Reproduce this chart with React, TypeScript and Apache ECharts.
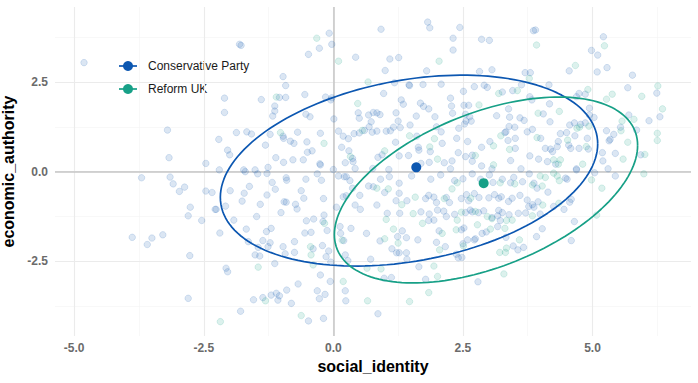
import React, { useEffect, useRef } from "react";
import * as echarts from "echarts";

// ---- data ----
const partyNames = ["Conservative Party", "Reform UK"];
const partyColors = ["#0C57B1", "#17A087"];
const xTickValues = [-5, -2.5, 0, 2.5, 5];
const yTickValues = [-2.5, 0, 2.5];
const xMinorGrid = [-3.75, -1.25, 1.25, 3.75, 6.25];
const yMinorGrid = [-3.75, -1.25, 1.25, 3.75];
const xRange = [-5.37, 6.9];
const yRange = [-4.58, 4.59];

const conservativeMean = [1.6, 0.12];
const reformMean = [2.9, -0.32];

// ellipse: centre, half-extent in x and y, correlation
const conservativeEllipse = { cx: 1.46, cy: 0.03, sx: 3.64, sy: 2.66, rho: 0.28 };
const reformEllipse = { cx: 2.945, cy: -0.51, sx: 2.925, sy: 2.59, rho: 0.48 };

const conservativePoints = [
  [-4.81,3.04],[-3.2,1.16],[-3.17,0.39],[-2.46,0.23],
  [-1.81,3.55],[-1.78,3.52],[-0.08,3.86],[-0.03,3.55],[-0.27,3.44],[-0.48,3.27],[0.43,3.19],[-0.97,2.65],[-0.92,2.4],[-2.1,2.05],[-2.1,1.65],[-1.39,2.01],[-1.04,2.07],[-0.92,2.07],[-1.13,1.83],[-1.13,1.69],[-1.17,1.55],[-0.55,2.15],[-0.53,1.6],[-0.45,1.53],[-0.15,2.08],[-0.05,2.0],[-0.03,2.06],[0.48,1.64],[0.5,1.49],[0.68,1.58],[0.77,1.65],[0.73,1.39],[0.01,1.47],[-1.87,1.09],[-1.67,1.11],[-1.58,1.05],[-2.21,0.9],[-1.22,1.04],[-0.97,0.99],[-0.96,0.93],[-0.69,1.1],[-0.25,1.07],[-0.83,0.85],[-0.76,0.79],[-1.31,0.74],[-0.51,0.83],[0.1,1.13],[0.19,0.99],[0.29,0.92],[0.4,1.06],[0.5,1.08],[0.6,1.15],[0.69,1.25],[0.75,1.1],[-2.04,0.6],[-2.0,0.47],[-1.11,0.39],[-0.96,0.26],[-0.78,0.33],[-0.58,0.33],[-0.5,0.54],[-0.41,0.58],[-0.26,0.22],[-0.25,0.19],[0.16,0.68],[0.3,0.58],[0.37,0.37],[0.23,0.25],[0.38,0.28],[0.42,0.09],[0.76,0.09],[-1.73,0.05],[-1.51,0.05],[-1.26,0.12],[0,0.06],
  [0.92,3.97],[1.82,4.17],[1.86,4.01],[2.44,4.02],[2.31,3.72],[2.31,3.39],[2.86,3.69],[3.01,3.66],[3.86,3.93],[1.09,3.14],[1.26,3.18],[1.0,2.82],[1.8,2.81],[2.82,2.79],[3.06,2.84],[3.7,2.76],[3.8,2.76],[1.18,2.48],[1.46,2.42],[1.47,2.4],[1.73,2.43],[2.08,2.44],[0.97,2.18],[2.26,2.05],[2.28,1.83],[2.51,2.24],[2.72,2.37],[2.91,2.41],[2.97,2.35],[3.26,2.22],[3.46,2.26],[3.63,2.42],[3.79,2.09],[3.83,2.0],[1.31,2.0],[1.35,1.88],[1.68,1.91],[1.74,1.82],[1.84,1.75],[2.52,1.85],[2.61,1.85],[0.84,1.64],[0.9,1.59],[1.21,1.64],[1.6,1.55],[1.96,1.53],[2.3,1.63],[2.55,1.6],[2.63,1.53],[3.15,1.56],[3.38,1.75],[3.4,1.52],[3.6,1.5],[3.68,1.43],[1.25,1.41],[1.16,1.24],[1.02,1.13],[1.1,1.14],[0.84,1.13],[1.48,1.3],[1.29,1.23],[1.99,1.25],[2.08,1.11],[2.42,1.21],[2.53,1.33],[2.56,1.41],[2.66,1.41],[3.33,1.11],[3.39,1.26],[3.5,1.24],[3.31,1.09],[3.74,1.11],[3.84,1.18],[1.61,0.99],[1.2,0.82],[2.1,0.79],[2.38,0.93],[2.59,0.84],[3.02,0.84],[3.37,0.87],[3.51,0.93],[0.94,0.47],[0.86,0.4],[1.27,0.44],[1.45,0.45],[1.65,0.6],[1.64,0.68],[1.87,0.56],[2.14,0.25],[2.29,0.3],[2.41,0.53],[2.55,0.42],[2.68,0.46],[2.68,0.29],[2.86,0.16],[2.86,0.68],[3.42,0.31],[3.51,0.65],[3.79,0.44],[1.69,0.23],[1.85,0.26],[1.07,0.06],[2.26,0.08],[3.06,0.08],[3.62,0.08],
  [3.9,3.95],[5.21,3.76],[4.98,3.38],[5.1,3.25],[4.55,2.81],[5.09,2.78],[5.28,2.9],[5.77,2.69],[4.16,2.42],[4.86,2.16],[4.74,2.18],[4.69,2.09],[5.68,2.34],[6.24,2.19],[4.17,1.89],[4.05,1.61],[4.94,1.77],[4.94,1.58],[5.03,1.51],[5.7,1.58],[6.09,1.42],[6.3,1.53],[4.18,1.39],[4.56,1.3],[4.65,1.36],[4.77,1.32],[4.86,1.36],[5.54,1.24],[5.27,1.14],[5.41,1.04],[5.34,0.9],[5.32,0.86],[5.85,1.16],[4.38,1.06],[4.5,1.09],[4.66,1.0],[4.0,0.93],[4.09,0.65],[4.19,0.63],[4.23,0.56],[4.32,0.7],[4.34,0.84],[4.54,0.74],[4.58,0.65],[4.74,0.65],[4.92,0.63],[4.9,0.93],[5.19,0.53],[5.44,0.51],[5.2,0.3],[5.93,0.47],[4.29,0.21],[4.13,0.28],[3.96,0.35],[4.69,0.08],[5.3,0.08],
  [-3.7,-0.17],[-3.15,-0.15],[-3.09,-0.34],[-2.97,-0.55],[-2.87,-0.43],[-2.46,-0.54],[-2.34,-0.58],[-2.28,-1.05],[-2.76,-0.99],[-2.8,-1.23],[-2.54,-1.36],[-3.88,-1.83],[-3.59,-2.03],[-3.5,-1.85],[-3.29,-1.76],[-2.77,-2.34],[-2.8,-3.53],
  [-2.2,0.05],[-1.7,0],[-1.46,-0.06],[-1.28,-0.05],[-0.91,-0.17],[-0.9,-0.24],[-0.53,-0.21],[-0.31,-0.06],[-0.23,-0.24],[-1.99,-0.53],[-1.62,-0.41],[-1.72,-0.6],[-1.28,-0.65],[-1.12,-0.49],[-1.18,-0.3],[-0.62,-0.53],[-0.57,-0.74],[-0.19,-0.75],[-2.08,-0.96],[-1.76,-0.82],[-1.41,-0.91],[-0.95,-0.84],[-0.91,-0.85],[-0.73,-0.91],[-0.7,-1.04],[-2.26,-1.05],[-1.48,-1.25],[-1.01,-1.14],[-0.52,-1.37],[-0.38,-1.32],[-0.2,-1.39],[-0.18,-1.21],[-1.92,-1.35],[-1.68,-1.6],[-2.19,-1.71],[-1.29,-1.67],[-1.2,-1.58],[-0.55,-1.71],[-0.43,-1.69],[-0.12,-1.64],[-1.64,-1.95],[-1.36,-1.92],[-1.22,-1.98],[-1.45,-2.11],[-1.26,-2.09],[-0.97,-2.09],[-0.75,-1.95],[-0.93,-2.29],[-0.75,-2.25],[-0.39,-2.15],[-0.09,-2.21],[-0.21,-2.06],[-1.51,-2.32],[-1.42,-2.35],[-1.13,-2.56],[-0.14,-2.37],[-0.05,-2.52],[-2.07,-2.69],[-2.04,-2.79],[-0.25,-2.88],[-0.06,-3.06],[-0.68,-3.13],[-1.54,-3.57],[-1.36,-3.51],[-1.2,-3.44],[-1.1,-3.39],[-1.07,-3.58],[-1.04,-3.46],[-0.9,-3.3],[-0.81,-3.67],[-0.31,-3.32],[-0.27,-3.54],[-0.16,-3.42],[-1.79,-3.89],[-0.48,-4.16],[-0.19,-4.09],[0.1,-0.12],[0.21,-0.14],[0.25,-0.14],[0.32,-0.25],[0.37,-0.46],[0.19,-0.7],[0.25,-0.67],[0.51,-0.66],[0.68,-0.4],[0.77,-0.42],[0.42,-0.93],[0.52,-1.05],[0.06,-0.99],[0.13,-1.53],[0.14,-1.72],[0.2,-1.92],[0.34,-1.58],[0.64,-1.72],[0.23,-2.32],[0.28,-2.48],[0.72,-2.44],[0.23,-3.32],[0.24,-3.6],
  [0.91,-0.21],[1.08,-0.14],[1.27,-0.32],[1.51,-0.12],[1.88,-0.21],[2.07,-0.09],[2.34,-0.25],[2.5,-0.2],[2.68,-0.06],[2.84,-0.21],[3.01,-0.09],[3.08,-0.3],[3.26,-0.21],[3.42,-0.31],[3.48,-0.16],[3.65,-0.28],[3.78,-0.06],[3.87,-0.32],[0.99,-0.58],[1.27,-0.6],[1.21,-0.81],[1.42,-0.81],[1.78,-0.75],[1.84,-0.66],[1.94,-0.71],[2.18,-0.72],[2.24,-0.86],[2.47,-0.75],[2.57,-0.64],[2.61,-0.81],[2.72,-0.61],[2.81,-0.72],[3.0,-0.73],[3.11,-0.64],[3.19,-0.74],[3.24,-0.7],[3.38,-0.83],[3.45,-0.74],[3.6,-0.66],[3.74,-0.79],[3.84,-0.92],[0.84,-0.93],[1.04,-1.16],[1.28,-1.16],[1.69,-1.12],[1.85,-1.18],[1.99,-0.86],[2.01,-1.07],[2.13,-1.1],[2.18,-1.25],[2.34,-1.19],[2.55,-1.14],[2.64,-1.07],[2.68,-1.12],[2.8,-1.14],[2.9,-1.09],[3.17,-1.23],[3.19,-1.08],[3.26,-1.14],[3.39,-1.2],[3.57,-1.16],[3.71,-1.15],[3.77,-0.97],[3.87,-0.99],[1.33,-1.65],[1.24,-1.81],[1.41,-1.84],[1.63,-1.9],[1.84,-1.36],[1.94,-1.35],[2.04,-1.65],[1.99,-1.97],[2.16,-2.09],[2.47,-1.62],[2.52,-1.57],[2.5,-2.01],[2.59,-1.9],[2.72,-1.9],[2.74,-1.87],[2.87,-1.72],[2.95,-1.68],[3.06,-1.28],[3.22,-1.36],[3.17,-1.53],[3.33,-1.83],[3.47,-2.07],[3.56,-2.18],[3.67,-2.11],[0.9,-1.93],[1.13,-2.15],[1.22,-2.26],[1.27,-2.26],[1.42,-2.44],[1.41,-2.26],[1.65,-2.65],[2.41,-2.4],[2.48,-2.39],[2.37,-2.3],[0.98,-2.97],[1.12,-2.95],[1.78,-3.0],[2.79,-3.07],[0.86,-3.96],
  [4.48,-0.18],[4.51,-0.21],[4.69,0.05],[5.04,-0.03],[5.44,-0.12],[4.14,-0.57],[3.93,-0.46],[3.95,-0.84],[3.99,-1.18],[4.25,-0.97],[4.45,-1.05],[4.56,-0.85],[4.59,-0.77],[4.65,-1.39],[4.59,-1.92],[4.03,-1.59],[3.92,-1.81],
];

const reformPoints = [
  [-0.32,3.72],[0.1,3.08],[0.67,2.5],[-1.1,2.08],[0.47,1.9],[-1.02,1.09],[-0.18,0.79],[0.56,1.15],[0.33,0.42],
  [2.04,3.08],[3.78,2.6],[3.19,2.18],[3.55,2.26],[2.81,1.86],[1.47,1.0],[3.23,1.0],[1.95,0.92],[0.99,0.58],[1.86,0.69],[2.01,0.35],[2.74,0.45],[3.09,0.72],[3.4,0.62],[3.09,0.19],
  [3.92,3.53],[5.23,3.51],[4.67,2.96],[4.91,2.29],[5.38,2.16],[5.27,2.02],[5.95,2.1],[6.26,2.39],[3.95,1.63],[4.36,1.68],[5.8,1.46],[6.35,1.75],[4.93,1.27],[5.57,1.41],[5.55,1.14],[6.25,1.07],[6.25,0.87],[5.68,0.82],[4.75,1.24],[4.7,1.21],[3.93,0.95],[4.52,0.88],[4.88,0.7],[5.59,0.35],[6.01,0.48],[4.25,0.33],[4.38,0.33],[4.34,0.21],[4.81,0.21],
  [-0.17,-1.44],[-0.44,-2.09],[-0.43,-2.32],[-0.39,-2.6],[-1.45,-2.66],[-1.31,-3.6],[-2.18,-4.18],[-0.62,-4.01],[0.65,-2.69],[0.19,-3.06],[0.66,-3.6],[0.17,-1.91],
  [0.84,-0.46],[1.06,-0.48],[2.29,-0.48],[2.39,-0.31],[3.22,-0.31],[3.5,-0.34],[3.84,-0.37],[1.32,-0.92],[1.58,-0.71],[2.14,-0.75],[2.65,-0.74],[1.54,-1.17],[2.47,-1.13],[2.74,-1.11],[2.97,-1.25],[3.06,-1.31],[3.34,-1.36],[3.45,-1.35],[3.84,-1.23],[1.02,-1.33],[1.16,-1.6],[1.72,-1.44],[2.1,-1.72],[2.39,-1.35],[2.37,-1.62],[2.78,-1.48],[3.03,-1.6],[3.31,-1.58],[3.34,-2.13],[3.59,-1.9],[3.21,-2.25],[3.32,-2.25],[0.99,-1.87],[1.25,-1.99],[2.05,-2.18],[2.51,-2.07],[1.94,-2.63],[0.92,-2.71],[2.01,-2.92],[3.29,-2.85],[1.84,-3.37],[1.47,-3.62],
  [3.99,-0.12],[4.09,-0.16],[4.25,-0.04],[4.32,-0.12],[4.36,-0.25],[5.99,-0.06],[4.98,-0.23],[5.18,-0.46],[4.03,-0.4],[4.04,-0.93],[4.35,-0.88],[5.08,-1.21],
];

type Ell = { cx: number; cy: number; sx: number; sy: number; rho: number };
function ellipsePath(e: Ell, n = 160) {
  const pts: number[][] = [];
  const k = Math.sqrt(1 - e.rho * e.rho);
  for (let i = 0; i <= n; i++) {
    const t = (2 * Math.PI * i) / n;
    pts.push([e.cx + e.sx * Math.cos(t), e.cy + e.sy * (e.rho * Math.cos(t) + k * Math.sin(t))]);
  }
  return pts;
}

function rgba(hex: string, a: number) {
  const r = parseInt(hex.slice(1, 3), 16), g = parseInt(hex.slice(3, 5), 16), b = parseInt(hex.slice(5, 7), 16);
  return `rgba(${r},${g},${b},${a})`;
}

const FONT = "Liberation Sans, Arial, sans-serif";

export default function App() {
  const ref = useRef<HTMLDivElement>(null);
  useEffect(() => {
    if (!ref.current) return;
    const chart = echarts.init(ref.current, undefined, { renderer: "svg" });
    const gridMinor = { color: "#f3f3f3", width: 0.6, type: "solid" };
    const gridMajor = { color: "#ebebeb", width: 1.1, type: "solid" };
    const pointSeries = (name: string, pts: number[][], color: string) => ({
      type: "scatter",
      name,
      data: pts,
      symbol: "circle",
      symbolSize: 6.5,
      silent: true,
      itemStyle: { color: rgba(color, 0.15), borderColor: rgba(color, 0.19), borderWidth: 0.8, opacity: 1 },
      z: 3,
    });
    const option: any = {
      animation: false,
      grid: { left: 55, right: 7, top: 7, bottom: 47, containLabel: false, outerBoundsMode: "none" },
      xAxis: {
        type: "value",
        min: xRange[0],
        max: xRange[1],
        axisLine: { show: false },
        axisTick: { show: false },
        splitLine: { show: false },
        axisLabel: {
          customValues: xTickValues,
          formatter: (v: number) => v.toFixed(1),
          color: "#6b6b6b",
          fontWeight: "bold",
          fontSize: 12,
          fontFamily: FONT,
          margin: 6,
        },
        name: "social_identity",
        nameLocation: "middle",
        nameGap: 22,
        nameTextStyle: { color: "#000", fontWeight: "bold", fontSize: 16, fontFamily: FONT },
      },
      yAxis: {
        type: "value",
        min: yRange[0],
        max: yRange[1],
        axisLine: { show: false },
        axisTick: { show: false },
        splitLine: { show: false },
        axisLabel: {
          customValues: yTickValues,
          formatter: (v: number) => v.toFixed(1),
          color: "#6b6b6b",
          fontWeight: "bold",
          fontSize: 12,
          fontFamily: FONT,
          margin: 7,
        },
        name: "economic_authority",
        nameLocation: "middle",
        nameGap: 30,
        nameTextStyle: { color: "#000", fontWeight: "bold", fontSize: 16, fontFamily: FONT },
      },
      series: [
        {
          type: "scatter",
          data: [],
          silent: true,
          z: 1,
          markLine: {
            silent: true,
            z: 1,
            symbol: ["none", "none"],
            label: { show: false },
            emphasis: { disabled: true },
            data: [
              ...xMinorGrid.map((v) => ({ xAxis: v, lineStyle: gridMinor })),
              ...yMinorGrid.map((v) => ({ yAxis: v, lineStyle: gridMinor })),
              ...xTickValues.map((v) => ({ xAxis: v, lineStyle: gridMajor })),
              ...yTickValues.map((v) => ({ yAxis: v, lineStyle: gridMajor })),
              { xAxis: 0, lineStyle: { color: "#c6c6c6", width: 1.5, type: "solid" } },
              { yAxis: 0, lineStyle: { color: "#c6c6c6", width: 1.5, type: "solid" } },
            ],
          },
        },
        pointSeries(partyNames[0], conservativePoints, partyColors[0]),
        pointSeries(partyNames[1], reformPoints, partyColors[1]),
        {
          type: "line",
          name: partyNames[0] + " ellipse",
          data: ellipsePath(conservativeEllipse),
          showSymbol: false,
          symbol: "none",
          silent: true,
          lineStyle: { color: partyColors[0], width: 1.7 },
          z: 4,
        },
        {
          type: "line",
          name: partyNames[1] + " ellipse",
          data: ellipsePath(reformEllipse),
          showSymbol: false,
          symbol: "none",
          silent: true,
          lineStyle: { color: partyColors[1], width: 1.7 },
          z: 4,
        },
        {
          type: "scatter",
          name: "means",
          data: [
            { value: conservativeMean, itemStyle: { color: partyColors[0], opacity: 1 } },
            { value: reformMean, itemStyle: { color: partyColors[1], opacity: 1 } },
          ],
          symbol: "circle",
          symbolSize: 10,
          silent: true,
          itemStyle: { opacity: 1 },
          z: 6,
        },
      ],
      graphic: partyNames.flatMap((name, i) => {
        const cy = 66 + 23 * i;
        return [
          { type: "line", shape: { x1: 119, y1: cy, x2: 137, y2: cy }, style: { stroke: partyColors[i], lineWidth: 1.7 }, silent: true },
          { type: "circle", shape: { cx: 128, cy, r: 5 }, style: { fill: partyColors[i] }, silent: true },
          {
            type: "text",
            x: 148,
            y: cy,
            style: { text: name, fill: "#1a1a1a", fontSize: 12, fontFamily: FONT, verticalAlign: "middle", align: "left" },
            silent: true,
          },
        ];
      }),
    };
    chart.setOption(option);
    return () => chart.dispose();
  }, []);
  return (
    <div
      ref={ref}
      style={{ position: "fixed", left: 0, top: 0, width: 698, height: 383, background: "#fff" }}
    />
  );
}
